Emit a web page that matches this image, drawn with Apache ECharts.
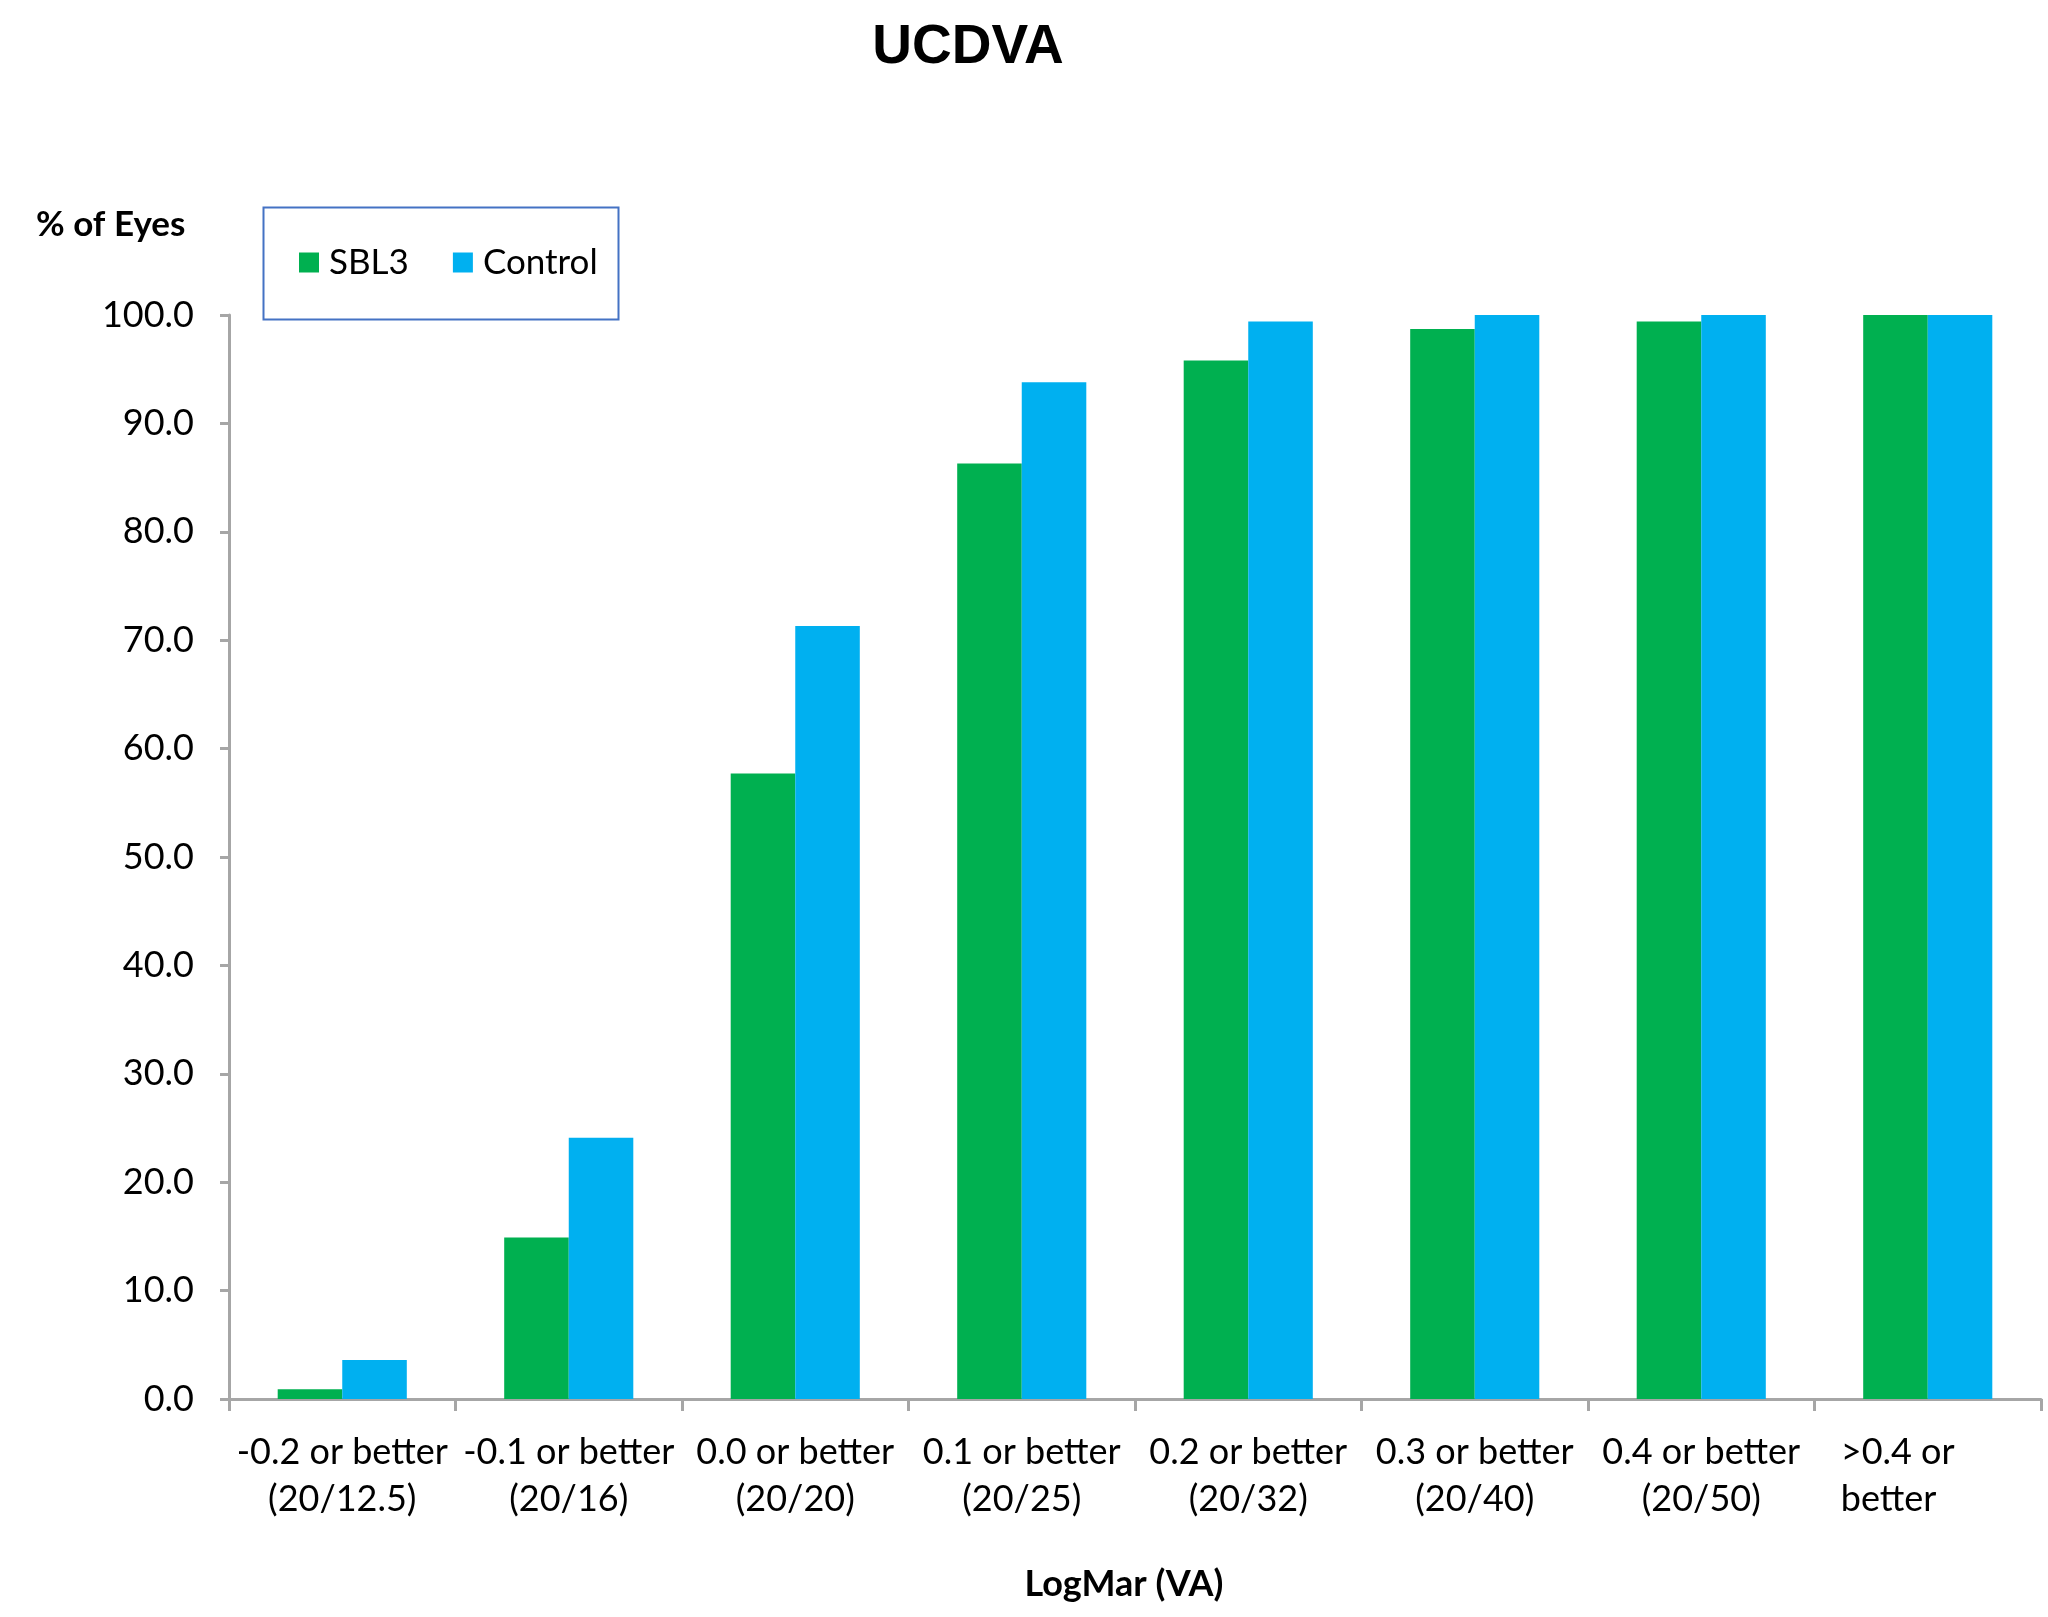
<!DOCTYPE html>
<html>
<head>
<meta charset="utf-8">
<script src="https://cdn.jsdelivr.net/npm/echarts@6/dist/echarts.min.js"></script>
<style>html,body{margin:0;padding:0;background:#fff}#c{width:2048px;height:1617px}</style>
</head>
<body>
<div id="c"></div>
<script>
const categories = ['-0.2 or better\n(20/12.5)', '-0.1 or better\n(20/16)', '0.0 or better\n(20/20)', '0.1 or better\n(20/25)', '0.2 or better\n(20/32)', '0.3 or better\n(20/40)', '0.4 or better\n(20/50)', '>0.4 or\nbetter'];
const sbl3 = [0.9, 14.9, 57.7, 86.3, 95.8, 98.7, 99.4, 100.0];
const control = [3.6, 24.1, 71.3, 93.8, 99.4, 100.0, 100.0, 100.0];
const seriesNames = ['SBL3', 'Control'];
const titleText = 'UCDVA';
const yName = '% of Eyes';
const xName = 'LogMar (VA)';

const FONT = 'Lato, "Open Sans", sans-serif';
const chart = echarts.init(document.getElementById('c'));
chart.setOption({
  animation: false,
  backgroundColor: '#fff',
  grid: { left: 229, right: 7, top: 315, bottom: 218, containLabel: false },
  legend: {
    data: seriesNames,
    left: 294, top: 240,
    itemWidth: 20, itemHeight: 20, itemGap: 44,
    icon: 'rect',
    textStyle: { fontFamily: FONT, fontSize: 35, color: '#000', padding: [0, 0, 0, 5] }
  },
  graphic: [
    { type: 'rect', left: 261, top: 205, shape: { width: 355, height: 112 },
      style: { fill: 'none', stroke: '#4472C4', lineWidth: 2 }, z: 10 },
    { type: 'text', x: 968, y: 48, style: { text: titleText, font: 'bold 55px "Liberation Sans", Arial, sans-serif', fill: '#000', textAlign: 'center', textVerticalAlign: 'middle' } },
    { type: 'text', x: 36, y: 225, style: { text: yName, font: 'bold 35px ' + FONT, fill: '#000', textAlign: 'left', textVerticalAlign: 'middle' } },
    { type: 'text', x: 1124, y: 1584, style: { text: xName, font: 'bold 36px ' + FONT, fill: '#000', textAlign: 'center', textVerticalAlign: 'middle' } }
  ],
  xAxis: {
    type: 'category',
    data: categories,
    axisLine: { lineStyle: { color: '#A6A6A6', width: 3 } },
    axisTick: { show: true, length: 12, lineStyle: { color: '#A6A6A6', width: 3 } },
    axisLabel: {
      interval: 0, margin: 30, fontFamily: FONT, fontSize: 36, color: '#000', lineHeight: 47,
      formatter: function (v) {
        if (v.charAt(0) === '>') {
          return v.split('\n').map(function (s) { return '{l|' + s + '}'; }).join('\n');
        }
        return v;
      },
      rich: { l: { width: 174, align: 'left', fontFamily: FONT, fontSize: 36, color: '#000', lineHeight: 47 } }
    },
    splitLine: { show: false }
  },
  yAxis: {
    type: 'value',
    min: 0, max: 100, interval: 10,
    axisLine: { show: true, lineStyle: { color: '#A6A6A6', width: 3 } },
    axisTick: { show: true, length: 9, lineStyle: { color: '#A6A6A6', width: 3 } },
    axisLabel: { margin: 35, fontFamily: FONT, fontSize: 36, color: '#000', formatter: v => v.toFixed(1) },
    splitLine: { show: false }
  },
  series: [
    { name: seriesNames[0], type: 'bar', data: sbl3, barGap: '0%', barCategoryGap: '43%', itemStyle: { color: '#00B050' } },
    { name: seriesNames[1], type: 'bar', data: control, barGap: '0%', barCategoryGap: '43%', itemStyle: { color: '#00B0F0' } }
  ]
});
</script>
</body>
</html>
